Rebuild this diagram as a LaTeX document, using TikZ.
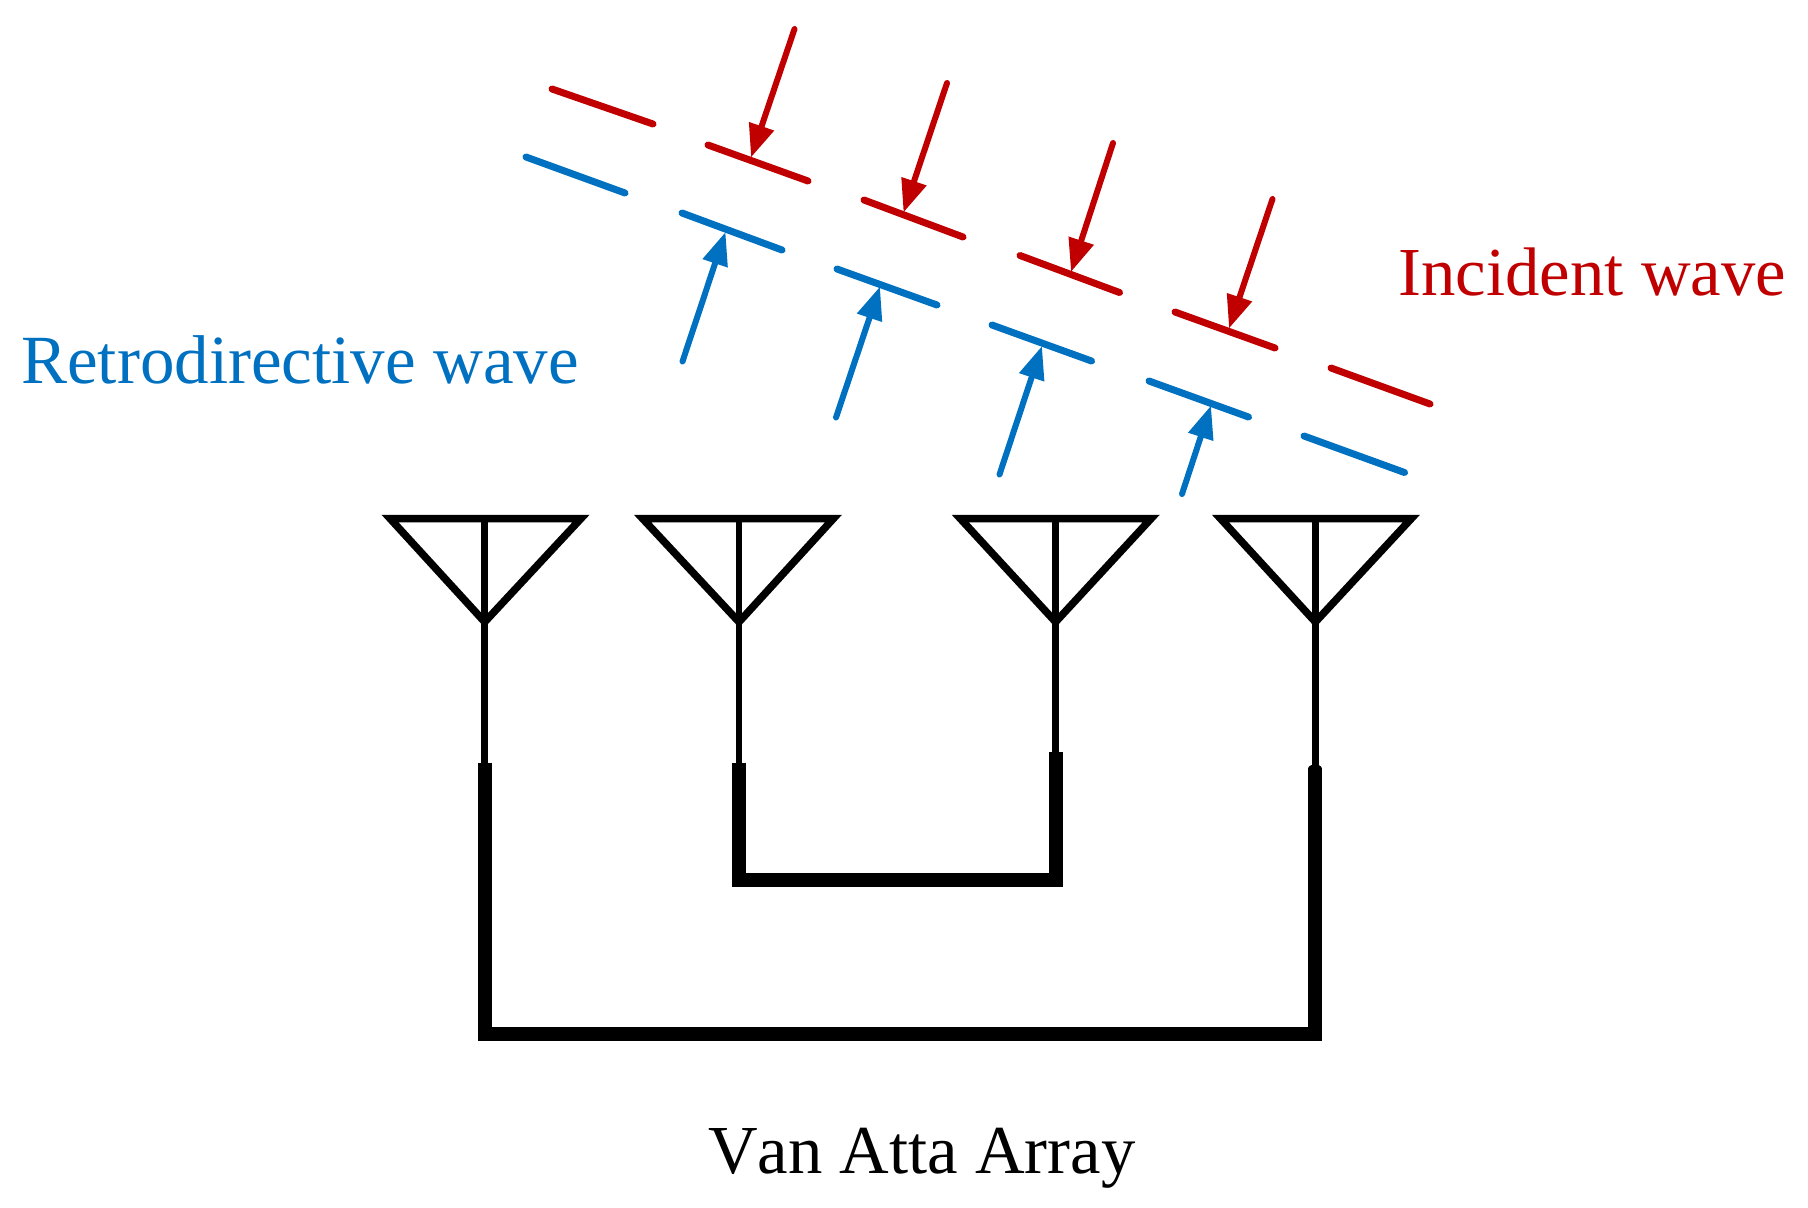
\documentclass[tikz,border=0pt]{standalone}
\usepackage{fontspec}
\setmainfont{Liberation Serif}
\newfontfamily\nokernserif[Kerning=Off]{Liberation Serif}
\usetikzlibrary{arrows.meta}
\definecolor{wavered}{HTML}{C00000}
\definecolor{waveblue}{HTML}{0070C0}
\tikzset{
  x=1pt,y=-1pt,
  label text/.style={font=\fontsize{69}{80}\selectfont,inner sep=0pt,anchor=base west},
  front/.style={line width=7pt,line cap=round},
  ray/.style={line width=6pt,line cap=round,-{Triangle[length=33pt,width=25pt]}},
  horn/.style={line width=7.5pt,draw=black,line join=miter,miter limit=10},
  feed/.style={line width=6.5pt,draw=black,line cap=butt},
  tline/.style={line width=14pt,draw=black,line join=miter,line cap=butt},
}
\begin{document}
\begin{tikzpicture}
\useasboundingbox (0,0) rectangle (1808,1208);
% wave fronts, incident
\foreach \n/\ax/\ay/\bx/\by in {0/552/89/653/124,1/708/145/808/181,2/864/200/963/237,3/1020/255.5/1119.5/292.5,4/1175/312/1275/348,5/1331/368/1430/404}{
  \coordinate (ra\n) at (\ax,\ay); \coordinate (rb\n) at (\bx,\by);
  \draw[front,wavered] (ra\n) -- (rb\n);
}
% wave fronts, retrodirective
\foreach \n/\ax/\ay/\bx/\by in {0/526/157/625/193,1/682/213/782/250,2/837/269/937/305,3/992/325/1091.5/361,4/1149/381/1248.5/417,5/1304/436/1404.5/472.5}{
  \coordinate (ba\n) at (\ax,\ay); \coordinate (bb\n) at (\bx,\by);
  \draw[front,waveblue] (ba\n) -- (bb\n);
}
% incident rays
\foreach \n/\ax/\ay/\bx/\by in {1/794.5/29/751/157.5,2/947/83/903.5/212.5,3/1113/143/1071/272,4/1272.5/199/1229/328.5}{
  \coordinate (rs\n) at (\ax,\ay); \coordinate (re\n) at (\bx,\by);
  \draw[ray,wavered] (rs\n) -- (re\n);
}
% retrodirective rays
\foreach \n/\ax/\ay/\bx/\by in {1/682.5/361.5/725.5/232,2/836/417.5/880/286.5,3/999.5/474.5/1042/346,4/1182/494/1211/405.5}{
  \coordinate (bs\n) at (\ax,\ay); \coordinate (be\n) at (\bx,\by);
  \draw[ray,waveblue] (bs\n) -- (be\n);
}
% antennas
\foreach \n/\c/\k/\t in {1/484.7/485.5/762.7,2/739/738/762.7,3/1055.6/1055.7/752.3,4/1315.4/1315.9/768.5}{
  \coordinate (top\n) at (\c,518.5);
  \coordinate (apex\n) at (\c,622);
  \coordinate (foot\n) at (\c,\t);
  \draw[horn] (\k-95.5,518.5) -- (\k+95.5,518.5) -- (apex\n) -- cycle;
  \draw[feed] (top\n) -- (foot\n);
}
% transmission lines
\coordinate (c2) at (739,880);
\coordinate (c3) at (1055.6,880);
\coordinate (c1) at (484.7,1034.2);
\coordinate (c4) at (1315.4,1034.2);
\draw[tline] (foot2) -- (c2) -- (c3) -- (foot3);
\draw[tline] (foot1) -- (c1) -- (c4) -- (foot4);
\fill[black] (1308.4,769) .. controls (1308.4,762.5) and (1322.4,762.5) .. (1322.4,769) -- cycle;
% labels
\node[label text,text=wavered,font=\fontsize{68.7}{80}\selectfont] (incident) at (1398.5,295) {Incident wave};
\node[label text,text=waveblue] (retro) at (21,383) {Retrodirective wave};
\node[label text,text=black,font=\nokernserif\fontsize{68.7}{80}\selectfont] (title) at (708,1173) {Van Atta Array};
\end{tikzpicture}
\end{document}
